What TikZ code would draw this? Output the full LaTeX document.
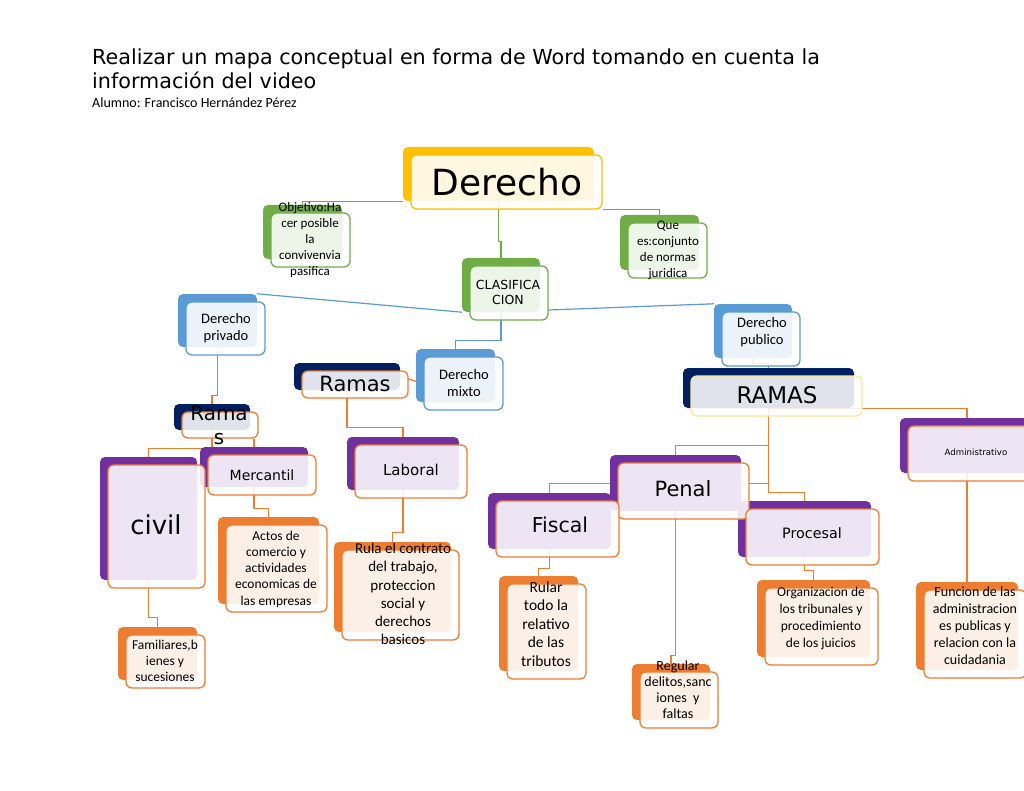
\documentclass[tikz,border=0pt]{standalone}
\usepackage{fontspec}
\setmainfont{Carlito}
\newfontfamily\dejavu{DejaVu Sans}
\usetikzlibrary{calc,backgrounds}

\definecolor{yel}{HTML}{FFC000}
\definecolor{paleyel}{HTML}{FFE699}
\definecolor{grn}{HTML}{70AD47}
\definecolor{blu}{HTML}{5B9BD5}
\definecolor{nvy}{HTML}{002060}
\definecolor{pur}{HTML}{7030A0}
\definecolor{ora}{HTML}{ED7D31}

\begin{document}
\begin{tikzpicture}[x=1pt,y=-1pt,
  backbox/.style={fill=#1,rounded corners=5pt,inner sep=0},
  frontbox/.style={draw=#1,fill=white,fill opacity=.88,line width=1.3pt,rounded corners=6pt,inner sep=0},
  wh/.style 2 args={minimum width=#1,minimum height=#2},
  bigtxt/.style={font=\dejavu\fontsize{#1}{#1}\selectfont,inner sep=0,align=center},
  note/.style 2 args={align=center,inner sep=0,font=\fontsize{#1}{#2}\selectfont},
  link/.style={draw=#1,line width=1.2pt}]

\useasboundingbox (0,0) rectangle (1024,791);

% Title
\node[anchor=base west,inner sep=0,font=\dejavu\fontsize{20.7}{24}\selectfont] (title-1) at (92,65) {Realizar un mapa conceptual en forma de Word tomando en cuenta la};
\node[anchor=base west,inner sep=0,font=\dejavu\fontsize{20.7}{24}\selectfont] (title-2) at (92,89) {información del video};
\node[anchor=base west,inner sep=0,font=\fontsize{14}{16}\selectfont] (alumno) at (92,108) {Alumno: Francisco Hernández Pérez};

% Back boxes
\node[backbox=yel,wh={191}{54}] (derecho-bk) at (498.5,174) {};
\node[backbox=grn,wh={79}{54}] (objetivo-bk) at (302.5,232) {};
\node[backbox=grn,wh={79}{55}] (que-bk) at (659.5,242.5) {};
\node[backbox=grn,wh={78}{54}] (clasif-bk) at (501,285) {};
\node[backbox=blu,wh={79}{53}] (privado-bk) at (217.5,320.5) {};
\node[backbox=blu,wh={79}{53}] (mixto-bk) at (455.5,375.5) {};
\node[backbox=blu,wh={78}{54}] (publico-bk) at (753,331) {};
\node[backbox=nvy,wh={106}{27}] (ramas-bk) at (347,376.5) {};
\node[backbox=nvy,wh={76}{26}] (ramas-s-bk) at (212,417) {};
\node[backbox=nvy,wh={171}{40}] (ramas-big-bk) at (768.5,388) {};
\node[backbox=pur,wh={97}{123}] (civil-bk) at (148.5,518.5) {};
\node[backbox=pur,wh={108}{40}] (mercantil-bk) at (254,467) {};
\node[backbox=pur,wh={112}{53}] (laboral-bk) at (403,463.5) {};
\node[backbox=pur,wh={131}{56}] (penal-bk) at (675.5,483) {};
\node[backbox=pur,wh={123}{56}] (fiscal-bk) at (549.5,521) {};
\node[backbox=pur,wh={133}{56}] (procesal-bk) at (804.5,529) {};
\node[backbox=pur,wh={134}{55}] (admin-bk) at (967,445.5) {};
\node[backbox=ora,wh={101}{87}] (actos-bk) at (268.5,560.5) {};
\node[backbox=ora,wh={79}{53}] (familia-bk) at (157.5,653.5) {};
\node[backbox=ora,wh={117}{90}] (rula-bk) at (392.5,587) {};
\node[backbox=ora,wh={79}{95}] (rular-bk) at (538.5,623.5) {};
\node[backbox=ora,wh={78}{56}] (regular-bk) at (671,692) {};
\node[backbox=ora,wh={113}{77}] (organiz-bk) at (813.5,618.5) {};
\node[backbox=ora,wh={102}{88}] (funcion-bk) at (967,626) {};

% Front boxes
\node[frontbox=yel,wh={191}{54}] (derecho) at ($(derecho-bk)+(8,8)$) {};
\node[frontbox=grn,wh={79}{54}] (objetivo) at ($(objetivo-bk)+(8,8)$) {};
\node[frontbox=grn,wh={79}{55}] (que) at ($(que-bk)+(8,8)$) {};
\node[frontbox=grn,wh={78}{54}] (clasif) at ($(clasif-bk)+(8,8)$) {};
\node[frontbox=blu,wh={79}{53}] (privado) at ($(privado-bk)+(8,8)$) {};
\node[frontbox=blu,wh={79}{53}] (mixto) at ($(mixto-bk)+(8,8)$) {};
\node[frontbox=blu,wh={78}{54}] (publico) at ($(publico-bk)+(8,8)$) {};
\node[frontbox=ora,wh={106}{27}] (ramas) at ($(ramas-bk)+(8,8)$) {};
\node[frontbox=ora,wh={76}{26}] (ramas-s) at ($(ramas-s-bk)+(8,8)$) {};
\node[frontbox=paleyel,wh={171}{40}] (ramas-big) at ($(ramas-big-bk)+(8,8)$) {};
\node[frontbox=ora,wh={97}{123}] (civil) at ($(civil-bk)+(8,8)$) {};
\node[frontbox=ora,wh={108}{40}] (mercantil) at ($(mercantil-bk)+(8,8)$) {};
\node[frontbox=ora,wh={112}{53}] (laboral) at ($(laboral-bk)+(8,8)$) {};
\node[frontbox=ora,wh={131}{56}] (penal) at ($(penal-bk)+(8,8)$) {};
\node[frontbox=ora,wh={123}{56}] (fiscal) at ($(fiscal-bk)+(8,8)$) {};
\node[frontbox=ora,wh={133}{56}] (procesal) at ($(procesal-bk)+(8,8)$) {};
\node[frontbox=ora,wh={134}{55}] (admin) at ($(admin-bk)+(8,8)$) {};
\node[frontbox=ora,wh={101}{87}] (actos) at ($(actos-bk)+(8,8)$) {};
\node[frontbox=ora,wh={79}{53}] (familia) at ($(familia-bk)+(8,8)$) {};
\node[frontbox=ora,wh={117}{90}] (rula) at ($(rula-bk)+(8,8)$) {};
\node[frontbox=ora,wh={79}{95}] (rular) at ($(rular-bk)+(8,8)$) {};
\node[frontbox=ora,wh={78}{56}] (regular) at ($(regular-bk)+(8,8)$) {};
\node[frontbox=ora,wh={113}{77}] (organiz) at ($(organiz-bk)+(8,8)$) {};
\node[frontbox=ora,wh={102}{88}] (funcion) at ($(funcion-bk)+(8,8)$) {};

% Texts
\node[bigtxt=36] (derecho-txt) at (507,182) {Derecho};
\node[note={13}{16}] (objetivo-txt) at (310,240) {Objetivo:Ha\\cer posible\\la\\convivenvia\\pasifica};
\node[note={13}{16}] (que-txt) at (668,250) {Que\\es:conjunto\\de normas\\juridica};
\node[bigtxt=12.5,font=\dejavu\fontsize{12.5}{15}\selectfont] (clasif-txt) at (508,292) {CLASIFICA\\CION};
\node[note={14.5}{17.5}] (privado-txt) at (226,328) {Derecho\\privado};
\node[note={14.5}{17.5}] (mixto-txt) at (464,383) {Derecho\\mixto};
\node[note={14.5}{17.5}] (publico-txt) at (762,332) {Derecho\\publico};
\node[bigtxt=21] (ramas-txt) at (355,384) {Ramas};
\node[bigtxt=20,font=\dejavu\fontsize{20}{24}\selectfont] (ramas-s-txt) at (219,425) {Rama\\s};
\node[bigtxt=23] (ramas-big-txt) at (777,395) {RAMAS};
\node[bigtxt=26] (civil-txt) at (156,525) {civil};
\node[bigtxt=14] (mercantil-txt) at (262,475) {Mercantil};
\node[bigtxt=15] (laboral-txt) at (411,470) {Laboral};
\node[bigtxt=21] (penal-txt) at (683,489) {Penal};
\node[bigtxt=20.5] (fiscal-txt) at (560,525) {Fiscal};
\node[bigtxt=14.3] (procesal-txt) at (812,533) {Procesal};
\node[bigtxt=8.6] (admin-txt) at (976,452) {Administrativo};
\node[note={13.5}{16.3}] (actos-txt) at (276,569) {Actos de\\comercio y\\actividades\\economicas de\\las empresas};
\node[note={13.5}{16}] (familia-txt) at (165,661) {Familiares,b\\ienes y\\sucesiones};
\node[note={15}{18.2}] (rula-txt) at (403,594) {Rula el contrato\\del trabajo,\\proteccion\\social y\\derechos\\basicos};
\node[note={15.5}{18.5}] (rular-txt) at (546,624) {Rular\\todo la\\relativo\\de las\\tributos};
\node[note={14}{16}] (regular-txt) at (678,690) {Regular\\delitos,sanc\\iones\ \ y\\faltas};
\node[note={13.5}{17}] (organiz-txt) at (821,618) {Organizacion de\\los tribunales y\\procedimiento\\de los juicios};
\node[note={14}{17}] (funcion-txt) at (975,626) {Funcion de las\\administracion\\es publicas y\\relacion con la\\cuidadania};

% Connectors
\begin{pgfonlayer}{background}
\fill[white] (0,0) rectangle (1024,791);
\draw[link=grn] (derecho-bk.south west) -| (objetivo-bk.north);
\draw[link=grn] (derecho.south east) -| (que-bk.north);
\draw[link=grn] (derecho-bk.south) -- ++(0,40) -| (clasif-bk.north);
\draw[link=blu] (clasif-bk.south west) -- (privado-bk.north east);
\draw[link=blu] ([yshift=-17pt]clasif.east) -- (publico-bk.north west);
\draw[link=blu] (clasif-bk.south) -- ++(0,28) -| (mixto-bk.north);
\draw[link=ora] (ramas-bk.east) -- (mixto.west);
\draw[link=ora] (privado-bk.south) -- ++(0,48) -| (ramas-s-bk.north);
\draw[link=ora] (ramas-s-bk.south) -- ++(0,18) -| (civil-bk.north);
\draw[link=ora] (mercantil-bk.north) -- (mercantil-bk.north |- ramas-s.south);
\draw[link=ora] (mercantil-bk.south) -- ++(0,21) -| (actos-bk.north);
\draw[link=ora] (civil-bk.south) -- ++(0,37) -| (familia-bk.north);
\draw[link=ora] (ramas-bk.south) -- ++(0,37) -| (laboral-bk.north);
\draw[link=ora] (laboral-bk.south) -- ++(0,42) -| (rula-bk.north);
\draw[link=ora] (publico-bk.south) -- ++(0,5) -| (ramas-big-bk.north);
\draw[link=ora] (ramas-big-bk.south) -| (admin-bk.north);
\draw[link=ora] (ramas-big-bk.south) -- ++(0,37) -| (penal-bk.north);
\draw[link=ora] (ramas-big-bk.south) -- ++(0,84) -| (procesal-bk.north);
\draw[link=ora] (ramas-big-bk.south) -- ++(0,75) -| (fiscal-bk.north);
\draw[link=ora] (fiscal-bk.south) -- ++(0,19) -| (rular-bk.north);
\draw[link=ora] (penal-bk.south) -- ++(0,144) -| (regular-bk.north);
\draw[link=ora] (procesal-bk.south) -- ++(0,13) -| (organiz-bk.north);
\draw[link=ora] (admin-bk.south) -- (funcion-bk.north);
\end{pgfonlayer}

\end{tikzpicture}
\end{document}
